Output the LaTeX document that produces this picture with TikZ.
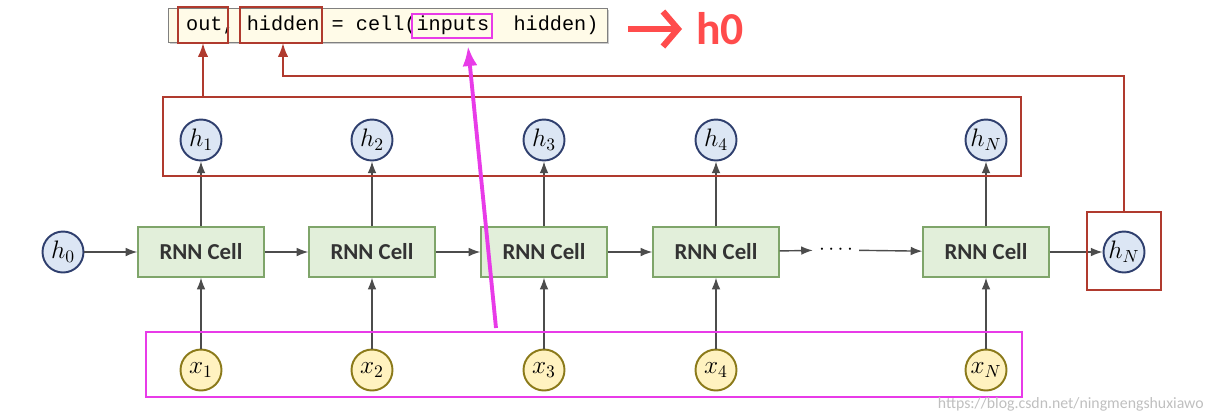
\documentclass[tikz,border=0pt]{standalone}
\usepackage{fontspec}
\setmainfont{Carlito}
\newfontfamily\codefont{Liberation Mono}
\usepackage{xcolor}
\usetikzlibrary{positioning,arrows.meta,shadows}
\definecolor{cellfill}{HTML}{E2EFDA}
\definecolor{celldraw}{HTML}{7FA56A}
\definecolor{hfill}{HTML}{DCE6F4}
\definecolor{hdraw}{HTML}{2F3F6E}
\definecolor{xfill}{HTML}{FFF2C0}
\definecolor{xdraw}{HTML}{8B7A1A}
\definecolor{boxred}{HTML}{B03A2E}
\definecolor{mag}{HTML}{E83BE8}
\definecolor{codebg}{HTML}{FFFBE8}

\begin{document}
\begin{tikzpicture}[
  x=0.02cm, y=-0.02cm,
  >=Latex,
  cell/.style={draw=celldraw, thick, fill=cellfill, minimum width=2.52cm, minimum height=1cm, font=\fontsize{13}{15}\selectfont\bfseries, text=black!80},
  hst/.style={circle, draw=hdraw, line width=1.1pt, fill=hfill, minimum size=0.82cm, inner sep=0pt, font=\Large},
  inp/.style={circle, draw=xdraw, line width=1.1pt, fill=xfill, minimum size=0.82cm, inner sep=0pt, font=\Large},
  frame/.style={draw=boxred, line width=1.1pt},
  arrow/.style={->, thick, draw=black!70}
]
\useasboundingbox (0,0) rectangle (1214,417);

% code line
\node[draw=black!50, fill=codebg, drop shadow={shadow xshift=1pt, shadow yshift=-1pt, opacity=0.4},
      minimum width=8.78cm, minimum height=0.68cm, anchor=west] (code) at (168,25) {};
\node[anchor=west, font=\codefont\fontsize{11.5}{13}\selectfont] (codetxt) at (180,25)
  {out, hidden = cell(inputs\ \ hidden)};
\draw[frame] (178,7) rectangle (228,43);
\draw[frame] (240,7) rectangle (322,43);
\draw[draw=mag, line width=1.1pt] (412,14) rectangle (492,38);
\coordinate (outin) at (203,43);
\coordinate (hidin) at (283,43);
\coordinate (inpin) at (468,46);

% h0 label
\coordinate (hs) at (628,29);
\coordinate (he) at (682,29);
\draw[-{Straight Barb[length=3mm,width=7mm]}, line width=3.5pt, draw=red!70] (hs) -- (he);
\node[font=\fontsize{26}{28}\selectfont\bfseries, text=red!70, anchor=west] (hzero) at (690,29) {h0};

% cells
\foreach \i/\x/\lab in {1/201/1, 2/372/2, 3/544/3, 4/716/4, 5/986/N} {
  \node[cell] (c\i) at (\x,252) {RNN Cell};
  \node[hst] (h\i) at (\x,140) {$h_{\lab}$};
  \node[inp] (x\i) at (\x,370) {$x_{\lab}$};
  \draw[arrow] (c\i) -- (h\i);
  \draw[arrow] (x\i) -- (c\i);
}
\node[hst] (h0) at (63,252) {$h_0$};
\node[hst] (hN) at (1124,252) {$h_N$};
\node[font=\large] (dots) at (836,250) {$\cdots\cdot$};

\draw[arrow] (h0) -- (c1);
\draw[arrow] (c1) -- (c2);
\draw[arrow] (c2) -- (c3);
\draw[arrow] (c3) -- (c4);
\draw[arrow] (c4) -- (dots);
\draw[arrow] (dots) -- (c5);
\draw[arrow] (c5) -- (hN);

% frames
\node[frame, minimum width=17.16cm, minimum height=1.58cm] (hbox) at (592,136.5) {};
\node[frame, minimum width=1.48cm, minimum height=1.56cm] (nbox) at (1124,251) {};
\node[draw=mag, line width=1.1pt, minimum width=17.52cm, minimum height=1.3cm] (xbox) at (584,364.5) {};

% feedback
\draw[->, line width=1.1pt, draw=boxred] (hbox.north -| outin) -- (outin);
\draw[->, line width=1.1pt, draw=boxred] (nbox.north) |- (1124,76) -| (hidin);
\draw[-{Latex[length=4mm,width=3mm]}, line width=2.2pt, draw=mag] (496,328) -- (inpin);

\node[text=black!25, font=\small, anchor=east] (wm) at (1210,404) {https://blog.csdn.net/ningmengshuxiawo};
\end{tikzpicture}
\end{document}
